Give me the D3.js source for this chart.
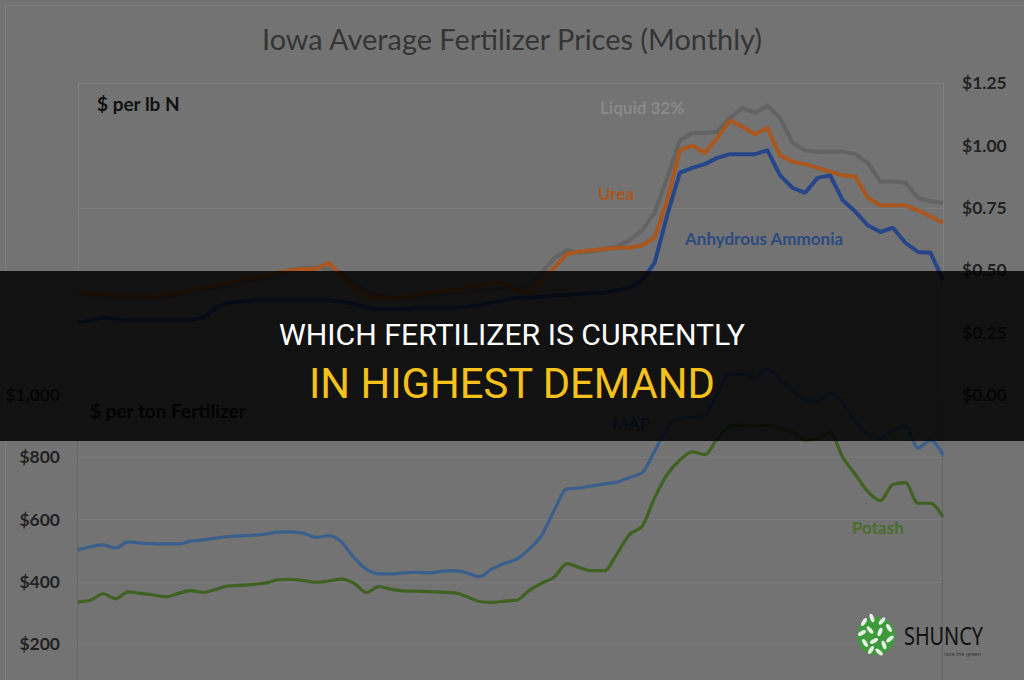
<!DOCTYPE html>
<html><head><meta charset="utf-8">
<script src="https://cdn.jsdelivr.net/npm/d3@7"></script>
<style>html,body{margin:0;padding:0;background:#737373;}svg{display:block;}</style>
</head><body>
<svg id="c" width="1024" height="680"></svg>
<script>
// ---- data (monthly, 70 points) ----
const months = d3.range(70);
const liquid32 = [0.41,0.40,0.395,0.39,0.39,0.39,0.39,0.39,0.40,0.41,0.42,0.43,0.44,0.45,0.46,0.47,0.48,0.50,0.51,0.51,0.505,0.49,0.45,0.42,0.40,0.39,0.39,0.39,0.40,0.40,0.41,0.41,0.42,0.42,0.43,0.43,0.44,0.49,0.55,0.58,0.57,0.575,0.585,0.595,0.62,0.66,0.73,0.87,1.02,1.05,1.05,1.055,1.11,1.15,1.13,1.16,1.11,1.01,0.98,0.975,0.975,0.975,0.965,0.93,0.855,0.855,0.85,0.79,0.775,0.77];
const urea = [0.417,0.41,0.405,0.40,0.40,0.40,0.395,0.40,0.41,0.42,0.43,0.44,0.45,0.46,0.47,0.48,0.49,0.50,0.505,0.505,0.53,0.48,0.43,0.40,0.39,0.39,0.39,0.40,0.41,0.42,0.42,0.43,0.44,0.45,0.45,0.42,0.41,0.46,0.51,0.565,0.575,0.58,0.585,0.59,0.59,0.60,0.63,0.78,0.98,1.00,0.97,1.03,1.10,1.075,1.045,1.07,0.96,0.935,0.925,0.91,0.895,0.88,0.875,0.79,0.76,0.76,0.76,0.74,0.715,0.69];
const anhydrous = [0.29,0.30,0.31,0.305,0.30,0.30,0.30,0.30,0.30,0.30,0.31,0.35,0.37,0.375,0.38,0.38,0.38,0.38,0.38,0.38,0.38,0.375,0.365,0.35,0.345,0.345,0.345,0.35,0.35,0.35,0.35,0.355,0.36,0.37,0.38,0.39,0.39,0.395,0.40,0.40,0.405,0.41,0.41,0.42,0.43,0.46,0.53,0.72,0.89,0.91,0.925,0.95,0.965,0.965,0.965,0.98,0.88,0.83,0.81,0.87,0.88,0.78,0.735,0.68,0.653,0.67,0.61,0.573,0.57,0.46];
const map = [502,512,518,508,528,524,522,521,521,530,534,540,545,547,549,553,559,560,555,542,548,528,478,440,425,425,428,430,428,433,435,428,416,440,458,472,505,550,630,698,701,708,714,720,735,750,820,895,925,929,935,1000,1068,1065,1058,1085,1050,1015,985,980,1005,975,915,875,860,885,900,830,855,807];
const potash = [335,340,361,345,367,362,357,351,362,371,365,375,386,388,391,396,406,407,403,398,402,408,395,365,384,375,370,369,368,366,364,352,336,333,337,340,372,395,415,458,445,435,435,490,552,578,670,745,790,817,808,860,900,903,898,903,892,880,855,860,880,800,745,690,660,712,718,652,652,608];
const topTicks = [0,0.25,0.5,0.75,1.0,1.25];
const botTicks = [200,400,600,800,1000];
const topGrid = [0.25,0.75];
const botGrid = [200,400,600,800];

const svg = d3.select("#c");
const W = 1024, H = 680;
const x = d3.scaleLinear().domain([0, 69]).range([78, 943]);
const yT = d3.scaleLinear().domain([0, 1.25]).range([395, 83]);
const yB = d3.scaleLinear().domain([0, 1000]).range([706, 395]);
const font = "Lato, 'Open Sans', sans-serif";

svg.append("rect").attr("width", W).attr("height", H).attr("fill", "#737373");
svg.append("rect").attr("x", 5.5).attr("y", 5.5).attr("width", 1030).attr("height", 720)
  .attr("fill", "none").attr("stroke", "#7d7d7d");

// title
svg.append("text").attr("x", 512).attr("y", 50).attr("text-anchor", "middle")
  .attr("font-family", font).attr("font-size", 28).attr("fill", "#353535")
  .attr("textLength", 500).attr("lengthAdjust", "spacingAndGlyphs")
  .text("Iowa Average Fertilizer Prices (Monthly)");

// plot frames
svg.append("rect").attr("x", 78.5).attr("y", 83.5).attr("width", 865).attr("height", 312)
  .attr("fill", "none").attr("stroke", "#7f7f7f");
svg.append("line").attr("x1", 77.5).attr("x2", 77.5).attr("y1", 395).attr("y2", 680).attr("stroke", "#666");
svg.append("line").attr("x1", 942.5).attr("x2", 942.5).attr("y1", 395).attr("y2", 680).attr("stroke", "#666");

// gridlines
svg.selectAll(".gt").data(topGrid).join("line")
  .attr("x1", 79).attr("x2", 943).attr("y1", d => Math.round(yT(d)) + 0.5).attr("y2", d => Math.round(yT(d)) + 0.5)
  .attr("stroke", "#7b7b7b");
svg.selectAll(".gb").data(botGrid).join("line")
  .attr("x1", 79).attr("x2", 942).attr("y1", d => Math.round(yB(d)) + 0.5).attr("y2", d => Math.round(yB(d)) + 0.5)
  .attr("stroke", "#7a7a7a");

// axes
const ax1 = svg.append("g").attr("transform", "translate(960,0)")
  .call(d3.axisRight(yT).tickValues(topTicks).tickSize(0).tickPadding(2).tickFormat(d3.format("$.2f")));
const ax2 = svg.append("g").attr("transform", "translate(62,0)")
  .call(d3.axisLeft(yB).tickValues(botTicks).tickSize(0).tickPadding(2).tickFormat(d => "$" + d3.format(",")(d)));
[ax1, ax2].forEach(a => {
  a.select(".domain").remove();
  a.selectAll("text").attr("font-family", font).attr("font-weight", 700).attr("font-size", 17.5).attr("fill", "#222");
});

// lines
const lineT = d3.line().x((d, i) => x(i)).y(d => yT(d)).curve(d3.curveLinear);
const lineB = d3.line().x((d, i) => x(i)).y(d => yB(d)).curve(d3.curveMonotoneX);
const topSeries = [
  {v: liquid32, c: "#636363"},
  {v: urea, c: "#a9561f"},
  {v: anhydrous, c: "#27468a"}
];
topSeries.forEach(s => svg.append("path").attr("d", lineT(s.v)).attr("fill", "none")
  .attr("stroke", s.c).attr("stroke-width", 4).attr("stroke-linejoin", "round"));
const botSeries = [
  {v: map, c: "#3b5f8c"},
  {v: potash, c: "#3f6222"}
];
botSeries.forEach(s => svg.append("path").attr("d", lineB(s.v)).attr("fill", "none")
  .attr("stroke", s.c).attr("stroke-width", 3.2).attr("stroke-linejoin", "round"));

// labels
function lab(t, xx, yy, c, fs) {
  svg.append("text").attr("x", xx).attr("y", yy).attr("font-family", font).attr("font-weight", 700)
    .attr("font-size", fs).attr("fill", c).text(t);
}
lab("$ per lb N", 97, 111, "#111", 19);
lab("$ per ton Fertilizer", 90, 418, "#111", 19);
lab("Liquid 32%", 600, 114, "#8a8a8a", 17);
lab("Urea", 598, 200, "#a9561f", 17);
lab("Anhydrous Ammonia", 685, 245, "#2c4a80", 17);
lab("MAP", 612, 430, "#2c4a80", 17);
lab("Potash", 852, 534, "#4a6e2a", 17);

// dark band
svg.append("rect").attr("x", 0).attr("y", 271).attr("width", W).attr("height", 170)
  .attr("fill", "#000").attr("opacity", 0.84);
svg.append("text").attr("x", 512).attr("y", 345).attr("text-anchor", "middle")
  .attr("font-family", "Roboto, sans-serif").attr("font-size", 29).attr("fill", "#ffffff")
  .attr("textLength", 466).attr("lengthAdjust", "spacingAndGlyphs")
  .text("WHICH FERTILIZER IS CURRENTLY");
svg.append("text").attr("x", 512).attr("y", 398).attr("text-anchor", "middle")
  .attr("font-family", "Roboto, sans-serif").attr("font-size", 43).attr("fill", "#f5c11a")
  .attr("textLength", 406).attr("lengthAdjust", "spacingAndGlyphs")
  .text("IN HIGHEST DEMAND");

// logo
const lg = svg.append("g").attr("transform", "translate(876,636)");
lg.append("circle").attr("r", 19).attr("fill", "#3d9a3d");
const leaves = [[-12,-14,30],[-4,-18,-20],[6,-15,40],[13,-8,-30],[-14,-3,60],[-6,-6,-40],[4,-4,20],[14,3,50],[-11,7,-30],[-2,5,60],[8,9,-20],[-5,14,30],[3,16,-50]];
lg.selectAll("ellipse").data(leaves).join("ellipse")
  .attr("rx", 2).attr("ry", 4.5).attr("fill", "#e8f0e4")
  .attr("transform", d => `translate(${d[0]},${d[1]}) rotate(${d[2]})`);
svg.append("text").attr("x", 904).attr("y", 645).attr("font-family", "'Noto Sans', sans-serif")
  .attr("font-size", 25).attr("fill", "#111").attr("textLength", 79).attr("lengthAdjust", "spacingAndGlyphs").text("SHUNCY");
svg.append("text").attr("x", 944).attr("y", 656).attr("font-family", "'Noto Sans', sans-serif")
  .attr("font-size", 5.5).attr("fill", "#333").text("love the green");
</script>
</body></html>
